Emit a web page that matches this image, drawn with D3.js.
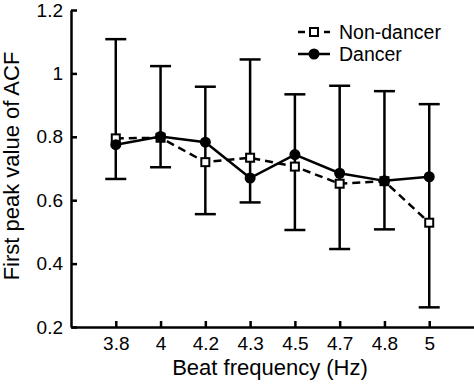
<!DOCTYPE html>
<html>
<head>
<meta charset="utf-8">
<script src="https://cdn.jsdelivr.net/npm/d3@7"></script>
<style>
body { margin: 0; background: #fff; }
svg { display: block; font-family: "Liberation Sans", Arial, sans-serif; }
</style>
</head>
<body>
<script>
// data
var freqs = ["3.8", "4", "4.2", "4.3", "4.5", "4.7", "4.8", "5"];
var nonDancer = [0.795, 0.797, 0.720, 0.734, 0.706, 0.652, 0.660, 0.529];
var dancer = [0.775, 0.801, 0.783, 0.670, 0.744, 0.685, 0.661, 0.674];
// error bar ends (upper whisker, lower whisker)
var errTop = [1.108, 1.023, 0.958, 1.044, 0.934, 0.961, 0.944, 0.903];
var errBottom = [0.667, 0.704, 0.556, 0.593, 0.506, 0.446, 0.508, 0.262];
var yTicks = [0.2, 0.4, 0.6, 0.8, 1, 1.2];

var width = 474, height = 384;
var plotLeft = 71, plotRight = 474, plotTop = 10, plotBottom = 327;

var svg = d3.select("body").append("svg").attr("width", width).attr("height", height);

var x = d3.scalePoint().domain(freqs).range([plotLeft, plotRight]).padding(1);
var y = d3.scaleLinear().domain([0.2, 1.2]).range([plotBottom, plotTop]);

//坐标轴
var gx = svg.append("g").attr("transform", "translate(0," + plotBottom + ")")
    .call(d3.axisBottom(x).tickSizeInner(-6).tickSizeOuter(0).tickPadding(10));
gx.selectAll("text").style("font-size", "19px");

var gy = svg.append("g").attr("transform", "translate(" + plotLeft + ",0)")
    .call(d3.axisLeft(y).tickValues(yTicks).tickFormat(d3.format("~g")).tickSizeInner(-6).tickSizeOuter(0).tickPadding(8));
gy.selectAll("text").style("font-size", "19px");

svg.selectAll(".domain, .tick line").attr("stroke", "#000").attr("stroke-width", 2.5);
svg.selectAll(".tick text").attr("fill", "#000");

svg.append("text").attr("x", 270).attr("y", 375).attr("text-anchor", "middle")
    .style("font-size", "22px").text("Beat frequency (Hz)");
svg.append("text").attr("transform", "translate(19,166) rotate(-90)")
    .attr("text-anchor", "middle").style("font-size", "22px").text("First peak value of ACF");

//误差线
var eb = svg.append("g").attr("stroke", "#000").attr("stroke-width", 2.5);
freqs.forEach(function (f, i) {
    var cx = x(f);
    eb.append("line").attr("x1", cx).attr("x2", cx).attr("y1", y(errTop[i])).attr("y2", y(errBottom[i]));
    eb.append("line").attr("x1", cx - 10.5).attr("x2", cx + 10.5).attr("y1", y(errTop[i])).attr("y2", y(errTop[i]));
    eb.append("line").attr("x1", cx - 10.5).attr("x2", cx + 10.5).attr("y1", y(errBottom[i])).attr("y2", y(errBottom[i]));
});

var line = d3.line().x(function (d, i) { return x(freqs[i]); }).y(function (d) { return y(d); });

svg.append("path").datum(nonDancer).attr("d", line).attr("fill", "none")
    .attr("stroke", "#000").attr("stroke-width", 2.5).attr("stroke-dasharray", "8,5");
svg.selectAll("rect.nd").data(nonDancer).enter().append("rect").attr("class", "nd")
    .attr("x", function (d, i) { return x(freqs[i]) - 4; })
    .attr("y", function (d) { return y(d) - 4; })
    .attr("width", 8).attr("height", 8)
    .attr("fill", "#fff").attr("stroke", "#000").attr("stroke-width", 2);

svg.append("path").datum(dancer).attr("d", line).attr("fill", "none")
    .attr("stroke", "#000").attr("stroke-width", 2.5);
svg.selectAll("circle.dc").data(dancer).enter().append("circle").attr("class", "dc")
    .attr("cx", function (d, i) { return x(freqs[i]); })
    .attr("cy", function (d) { return y(d); })
    .attr("r", 5.5).attr("fill", "#000");

//图例
var lg = svg.append("g");
lg.append("line").attr("x1", 298).attr("x2", 330).attr("y1", 32).attr("y2", 32)
    .attr("stroke", "#000").attr("stroke-width", 2.5).attr("stroke-dasharray", "7,6");
lg.append("rect").attr("x", 310).attr("y", 28).attr("width", 8).attr("height", 8)
    .attr("fill", "#fff").attr("stroke", "#000").attr("stroke-width", 2);
lg.append("text").attr("x", 339).attr("y", 32).attr("dy", "0.35em").style("font-size", "19.5px").text("Non-dancer");
lg.append("line").attr("x1", 298).attr("x2", 330).attr("y1", 54).attr("y2", 54)
    .attr("stroke", "#000").attr("stroke-width", 2.5);
lg.append("circle").attr("cx", 314).attr("cy", 54).attr("r", 5.5).attr("fill", "#000");
lg.append("text").attr("x", 339).attr("y", 54).attr("dy", "0.35em").style("font-size", "19.5px").text("Dancer");
</script>
</body>
</html>
